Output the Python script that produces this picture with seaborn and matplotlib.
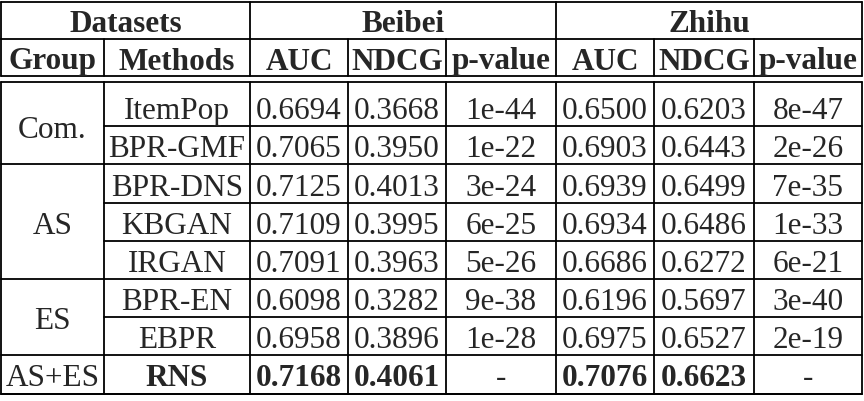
import matplotlib
matplotlib.use("Agg")
import matplotlib.pyplot as plt
import seaborn as sns

sns.set_style("white")
plt.rcParams['font.family'] = ['Liberation Serif', 'DejaVu Serif']

groups = ["Com.", "AS", "ES", "AS+ES"]
group_sizes = [2, 3, 2, 1]
methods = ["ItemPop", "BPR-GMF", "BPR-DNS", "KBGAN", "IRGAN", "BPR-EN", "EBPR", "RNS"]
beibei_auc = ["0.6694", "0.7065", "0.7125", "0.7109", "0.7091", "0.6098", "0.6958", "0.7168"]
beibei_ndcg = ["0.3668", "0.3950", "0.4013", "0.3995", "0.3963", "0.3282", "0.3896", "0.4061"]
beibei_p = ["1e-44", "1e-22", "3e-24", "6e-25", "5e-26", "9e-38", "1e-28", "-"]
zhihu_auc = ["0.6500", "0.6903", "0.6939", "0.6934", "0.6686", "0.6196", "0.6975", "0.7076"]
zhihu_ndcg = ["0.6203", "0.6443", "0.6499", "0.6486", "0.6272", "0.5697", "0.6527", "0.6623"]
zhihu_p = ["8e-47", "2e-26", "7e-35", "1e-33", "6e-21", "3e-40", "2e-19", "-"]
sub_headers = ["Group", "Methods", "AUC", "NDCG", "p-value", "AUC", "NDCG", "p-value"]

xs = [1, 104, 250, 348, 446, 556, 654, 754, 862]
row_h = 38.2
body_top = 88
top, h1, h2, dbl = 2, 39, 76, 82
ys = [body_top + i * row_h for i in range(len(methods) + 1)]
bottom = ys[-1]

fig = plt.figure(figsize=(8.64, 4.01), dpi=100)
ax = fig.add_axes([0, 0, 1, 1])
ax.set_xlim(0, 864)
ax.set_ylim(401, 0)
ax.axis("off")
kw = dict(color="black", lw=1.3)
fs = 22.5

def hline(y, x0=xs[0], x1=xs[-1]):
    ax.plot([x0, x1], [y, y], **kw)

def vline(x, y0, y1):
    ax.plot([x, x], [y0, y1], **kw)

# header lines
for y in [top, h1, h2, dbl, bottom]:
    hline(y)
for x in [xs[0], xs[2], xs[5], xs[8]]:
    vline(x, top, h1)
for x in xs:
    vline(x, h1, h2)
    vline(x, dbl, bottom)

# body row lines
start = 0
for size in group_sizes:
    for k in range(1, size):
        hline(ys[start + k], xs[1], xs[-1])
    start += size
    hline(ys[start])

def put(x, y, s, bold=False):
    ax.text(x, y + 1, s, ha="center", va="center_baseline", fontsize=fs,
            fontweight="bold" if bold else "normal")

# header text
for label, (a, b) in zip(["Datasets", "Beibei", "Zhihu"], [(0, 2), (2, 5), (5, 8)]):
    put((xs[a] + xs[b]) / 2, (top + h1) / 2, label, True)
for i, label in enumerate(sub_headers):
    put((xs[i] + xs[i + 1]) / 2, (h1 + h2) / 2, label, True)

# group text
start = 0
for g, size in zip(groups, group_sizes):
    put((xs[0] + xs[1]) / 2, (ys[start] + ys[start + size]) / 2, g)
    start += size

cols = [methods, beibei_auc, beibei_ndcg, beibei_p, zhihu_auc, zhihu_ndcg, zhihu_p]
for r in range(len(methods)):
    last = r == len(methods) - 1
    for c, col in enumerate(cols):
        put((xs[c + 1] + xs[c + 2]) / 2, (ys[r] + ys[r + 1]) / 2, col[r],
            last and col[r] != "-")

fig.savefig("out.png", dpi=100, facecolor="white")
